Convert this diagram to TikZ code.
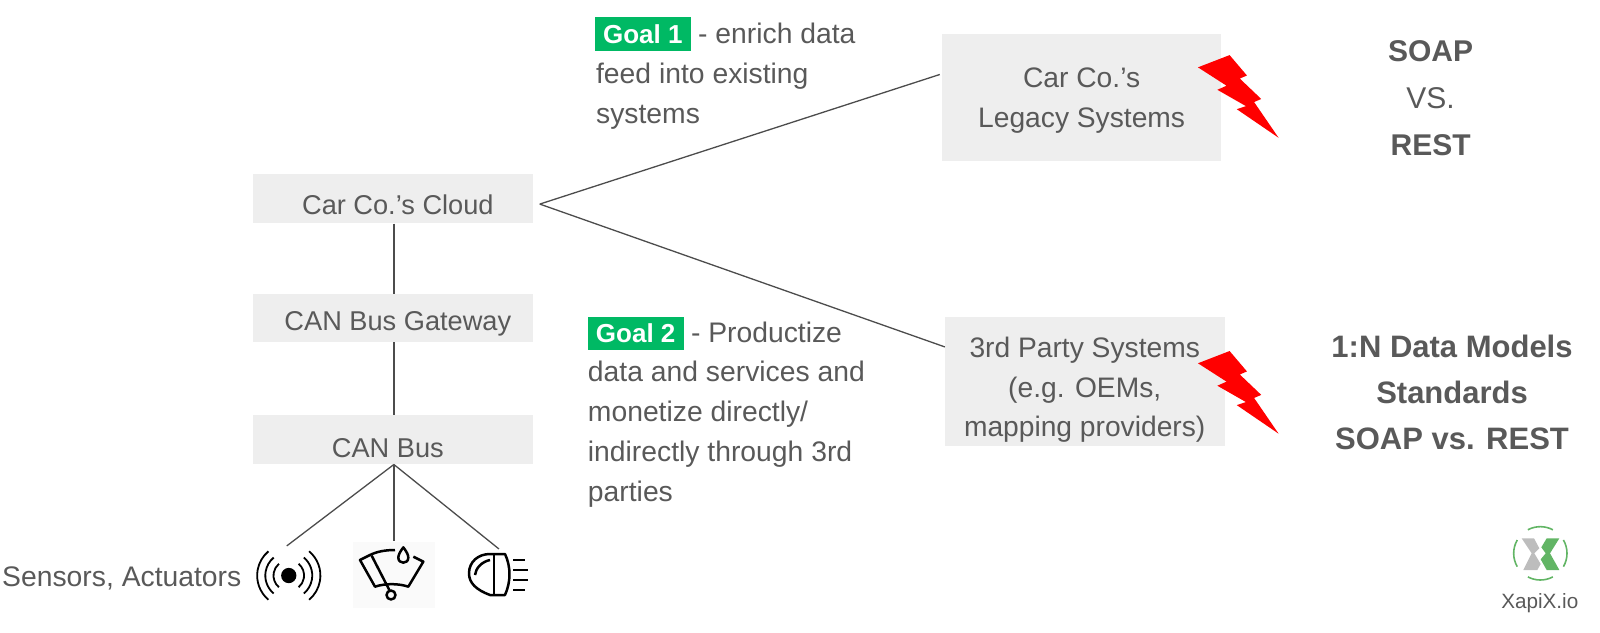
\documentclass[tikz,border=0pt]{standalone}
\usepackage{fontspec}
\setmainfont{Liberation Sans}
\definecolor{txt}{HTML}{595959}
\definecolor{boxg}{HTML}{EEEEEE}
\definecolor{goal}{HTML}{00B964}
\definecolor{lgreen}{HTML}{62B565}
\definecolor{lgray}{HTML}{BDBDBD}
\tikzset{
 boxn/.style={fill=boxg,inner sep=0pt,text=txt,font=\fontsize{28.2}{39.4}\selectfont,align=center},
 boxs/.style={boxn,font=\fontsize{27.2}{39.4}\selectfont},
 lab/.style={inner sep=0pt,text=txt,anchor=base west,font=\fontsize{28.3}{39.8}\selectfont,align=left},
 head/.style={inner sep=0pt,text=txt,font=\fontsize{30}{47}\selectfont,align=center},
 headb/.style={inner sep=0pt,text=txt,font=\fontsize{31}{46}\selectfont\bfseries,align=center},
 badge/.style={fill=goal,text=white,inner sep=0pt,font=\fontsize{26}{30}\selectfont\bfseries,minimum width=96pt,minimum height=33.5pt},
 conn/.style={draw=black!70,line width=1.3pt},
 ic/.style={line width=2.5pt,black,line join=round},
 arcl/.style={lgreen,line width=1.6pt},
 bolt/.style={fill=red,draw=none}
}
\newcommand{\boltshape}[2]{\fill[bolt,shift={(#1,#2)}] (0,0)--(31,-12)--(48,8)--(41,11)--(62,31)--(55,34)--(79,69)--(38,41)--(47,38)--(19,22)--(28,18)--cycle;}
\begin{document}
\begin{tikzpicture}[x=1.0204pt,y=-1.0204pt]
\useasboundingbox (0,0) rectangle (1568,620.3);
% boxes
\node[boxs,minimum width=279.6pt,minimum height=49pt] (cloud) at (385,195) {\rule{0pt}{32pt}\hspace*{10pt}Car Co.’s Cloud};
\node[boxs,minimum width=279.6pt,minimum height=48pt] (gw) at (385,311.5) {\rule{0pt}{31pt}\hspace*{10pt}CAN Bus Gateway};
\node[boxs,minimum width=279.6pt,minimum height=49pt] (bus) at (385,431) {\rule{0pt}{36pt}CAN Bus\hspace*{10pt}};
\node[boxn,minimum width=279.6pt,minimum height=127.6pt] (legacy) at (1060,95.5) {\rule{0pt}{26pt}Car Co.’s\\Legacy Systems};
\node[boxn,minimum width=279.6pt,minimum height=128.6pt] (third) at (1063,374) {\rule{0pt}{37pt}3rd Party Systems\\(e.g. OEMs,\\mapping providers)};
% connector ends
\coordinate (hub) at (529,200);
\coordinate (legE) at (921,73);
\coordinate (thE) at (926,340);
\coordinate (sE) at (281,535);
\coordinate (wE) at (386,530);
\coordinate (hE) at (489,538);
\draw[conn] (hub)--(legE);
\draw[conn] (hub)--(thE);
\draw[conn] (cloud.south -| wE)--(gw.north -| wE);
\draw[conn] (gw.south -| wE)--(bus.north -| wE);
\draw[conn] (bus.south -| wE)--(sE);
\draw[conn] (bus.south -| wE)--(wE);
\draw[conn] (bus.south -| wE)--(hE);
% goals
\node[badge] (g1) at (630,33.4) {Goal 1};
\node[lab] (g1t) at (684,42.5) {- enrich data};
\node[lab] (g1b) at (584,121) {feed into existing\\systems};
\node[badge] (g2) at (623,327) {Goal 2};
\node[lab] (g2t) at (677,336) {- Productize};
\node[lab] (g2b) at (576,491) {data and services and\\monetize directly/\\indirectly through 3rd\\parties};
% headings
\node[head] (soap) at (1402,96) {\textbf{SOAP}\\VS.\\\textbf{REST}};
\node[headb] (nm) at (1423,385) {1:N Data Models\\Standards\\SOAP vs. REST};
\node[lab] (sens) at (2,575) {Sensors, Actuators};
% bolts
\boltshape{1174}{66}
\boltshape{1174}{356}
% sensor icon
\begin{scope}[shift={(283,564)},ic,line width=1.8pt]
\fill (0,0) circle (7.5);
\foreach \r in {15,23,31}{
 \draw (-50:\r) arc (-50:50:\r);
 \draw (130:\r) arc (130:230:\r);
}
\end{scope}
% wiper icon
\fill[black!2] (346,531) rectangle (426,596);
\begin{scope}[ic,shift={(343,524.3)},x=0.3333pt,y=-0.3333pt]
\draw (135,45) .. controls (105,45) and (80,50) .. (60,60) -- (30,75) -- (75,155) .. controls (105,145) and (145,145) .. (175,155) -- (220,80) -- (190,65);
\draw (65,62) -- (118,165);
\draw (123,180) circle (13.5);
\draw (160,37) .. controls (150,50) and (145,60) .. (145,68) .. controls (145,88) and (175,88) .. (175,68) .. controls (175,60) and (170,50) .. (160,37) -- cycle;
\end{scope}
% headlamp icon
\begin{scope}[ic,shift={(445.9,529.2)},x=0.3333pt,y=-0.3333pt]
\draw (150,42) .. controls (168,80) and (168,125) .. (150,165) -- (105,165) .. controls (65,150) and (42,130) .. (42,100) .. controls (42,65) and (70,42) .. (105,42) -- cycle;
\draw (117,42) -- (117,165);
\draw (60,105) .. controls (62,85) and (80,65) .. (105,60);
\draw (175,60)--(210,60) (175,90)--(220,90) (175,120)--(220,120) (175,150)--(210,150);
\end{scope}
% logo
\begin{scope}[shift={(1470,509.6)},x=0.3333pt,y=-0.3333pt]
\draw[arcl] (121,100) ++(62:80) arc (62:118:80);
\draw[arcl] (121,100) ++(150:80) arc (150:210:80);
\draw[arcl] (121,100) ++(242:80) arc (242:298:80);
\draw[arcl] (121,100) ++(-30:80) arc (-30:30:80);
\fill[lgray] (65,55)--(102,55)--(118,85)--(103,100)--(122,132)--(112,150)--(70,150)--(95,100)--cycle;
\fill[lgreen] (140,55)--(178,55)--(150,100)--(178,150)--(140,150)--(122,118)--(137,100)--(124,82)--cycle;
\end{scope}
\node[inner sep=0pt,text=txt,font=\fontsize{20.7}{24}\selectfont] (logo) at (1509,591) {XapiX.io};
\end{tikzpicture}
\end{document}
